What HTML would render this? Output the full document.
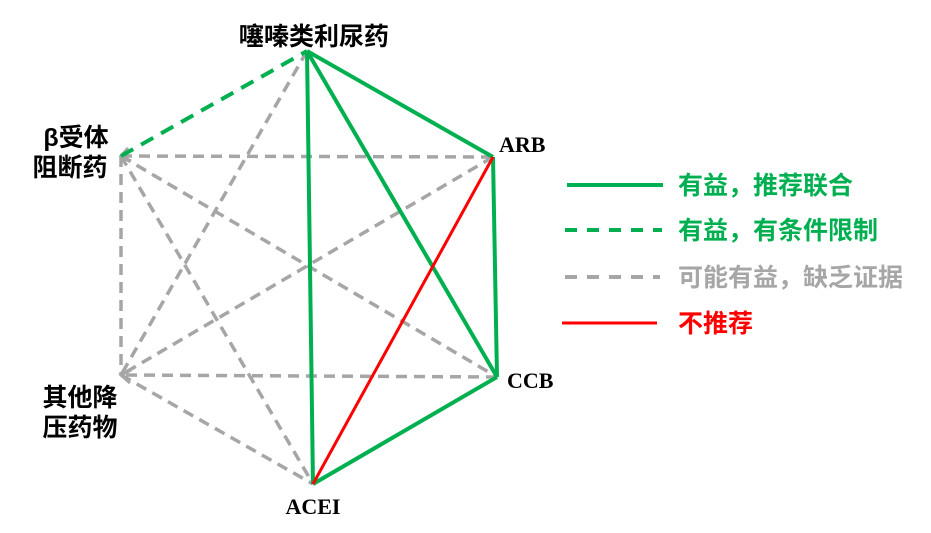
<!DOCTYPE html>
<html><head><meta charset="utf-8"><style>
body{margin:0;background:#fff;width:931px;height:533px;overflow:hidden}
svg{display:block}
text{font-family:"Liberation Sans","Noto Sans CJK SC",sans-serif;font-weight:bold}
.s{font-family:"Liberation Serif",serif;font-weight:bold}
</style></head><body>
<svg width="931" height="533" viewBox="0 0 931 533">
<g stroke="#a6a6a6" stroke-width="3.5" stroke-dasharray="11,7" fill="none">
<line x1="121" y1="156" x2="493" y2="157"/>
<line x1="121" y1="156" x2="497" y2="377"/>
<line x1="121" y1="156" x2="121" y2="375"/>
<line x1="121" y1="156" x2="313" y2="484"/>
<line x1="307" y1="51" x2="121" y2="375"/>
<line x1="493" y1="157" x2="121" y2="375"/>
<line x1="497" y1="377" x2="121" y2="375"/>
<line x1="121" y1="375" x2="313" y2="484"/>
</g>
<g stroke="#a6a6a6" stroke-width="3" fill="none">
<polyline points="128,148 121,156 131,161"/>
<polyline points="131,370 121,375 130,383"/>
</g>
<line x1="121" y1="156" x2="307" y2="51" stroke="#00b050" stroke-width="4" stroke-dasharray="14,9"/>
<g stroke="#00b050" stroke-width="4" fill="none" stroke-linejoin="round">
<line x1="307" y1="51" x2="313" y2="484"/>
<line x1="307" y1="51" x2="493" y2="157"/>
<line x1="307" y1="51" x2="497" y2="377"/>
<line x1="493" y1="157" x2="497" y2="377"/>
<line x1="497" y1="377" x2="313" y2="484"/>
</g>
<line x1="493" y1="157" x2="313" y2="484" stroke="#ff0000" stroke-width="3"/>
<text x="314" y="45" font-size="25" text-anchor="middle">噻嗪类利尿药</text>
<text x="76" y="146" font-size="25" text-anchor="middle">β受体</text>
<text x="70" y="176" font-size="25" text-anchor="middle">阻断药</text>
<text x="80" y="406" font-size="25" text-anchor="middle">其他降</text>
<text x="80" y="436" font-size="25" text-anchor="middle">压药物</text>
<text class="s" x="499" y="152" font-size="22">ARB</text>
<text class="s" x="507" y="388" font-size="22">CCB</text>
<text class="s" x="313" y="514" font-size="22" text-anchor="middle">ACEI</text>
<line x1="567" y1="185" x2="663" y2="185" stroke="#00b050" stroke-width="4"/>
<line x1="565" y1="230" x2="662" y2="230" stroke="#00b050" stroke-width="4" stroke-dasharray="12,10"/>
<line x1="565" y1="277" x2="660" y2="277" stroke="#a6a6a6" stroke-width="4" stroke-dasharray="12,10"/>
<line x1="562" y1="323" x2="657" y2="323" stroke="#ff0000" stroke-width="3"/>
<text x="678" y="194" font-size="25" fill="#00b050">有益，推荐联合</text>
<text x="678" y="239" font-size="25" fill="#00b050">有益，有条件限制</text>
<text x="678" y="286" font-size="25" fill="#a6a6a6">可能有益，缺乏证据</text>
<text x="678" y="332" font-size="25" fill="#ff0000">不推荐</text>
</svg>
</body></html>
